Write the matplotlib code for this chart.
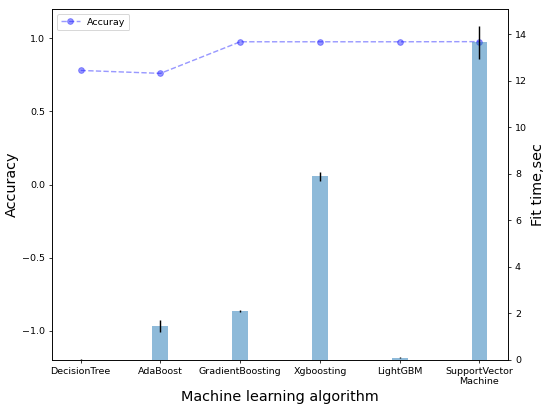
import numpy as np
import matplotlib
matplotlib.use("Agg")
import matplotlib.pyplot as plt

algorithms = ["DecisionTree", "AdaBoost", "GradientBoosting", "Xgboosting",
              "LightGBM", "SupportVector\nMachine"]
accuracy = [0.78, 0.76, 0.976, 0.976, 0.976, 0.977]
fit_time = [0.02, 1.46, 2.1, 7.9, 0.1, 13.65]
fit_time_std = [0.01, 0.27, 0.05, 0.2, 0.03, 0.72]

x = np.arange(len(algorithms))

fig, ax = plt.subplots(figsize=(8, 410 / 68.75), dpi=68.75)
fig.subplots_adjust(left=0.0945, right=0.924, bottom=0.122, top=0.978)

ax.plot(x, accuracy, "o--", color="blue", alpha=0.4, label="Accuray")
ax.set_ylim(-1.2, 1.2)
ax.set_yticks([-1.0, -0.5, 0.0, 0.5, 1.0])
ax.set_ylabel("Accuracy", fontsize=15)
ax.set_xlabel("Machine learning algorithm", fontsize=15)
ax.set_xticks(x)
ax.set_xticklabels(algorithms)
ax.legend(loc="upper left")

ax2 = ax.twinx()
ax2.bar(x, fit_time, width=0.2, yerr=fit_time_std, alpha=0.5, color="C0")
ax2.set_ylabel("Fit time,sec", fontsize=15)

fig.savefig("out.png", dpi=68.75)
